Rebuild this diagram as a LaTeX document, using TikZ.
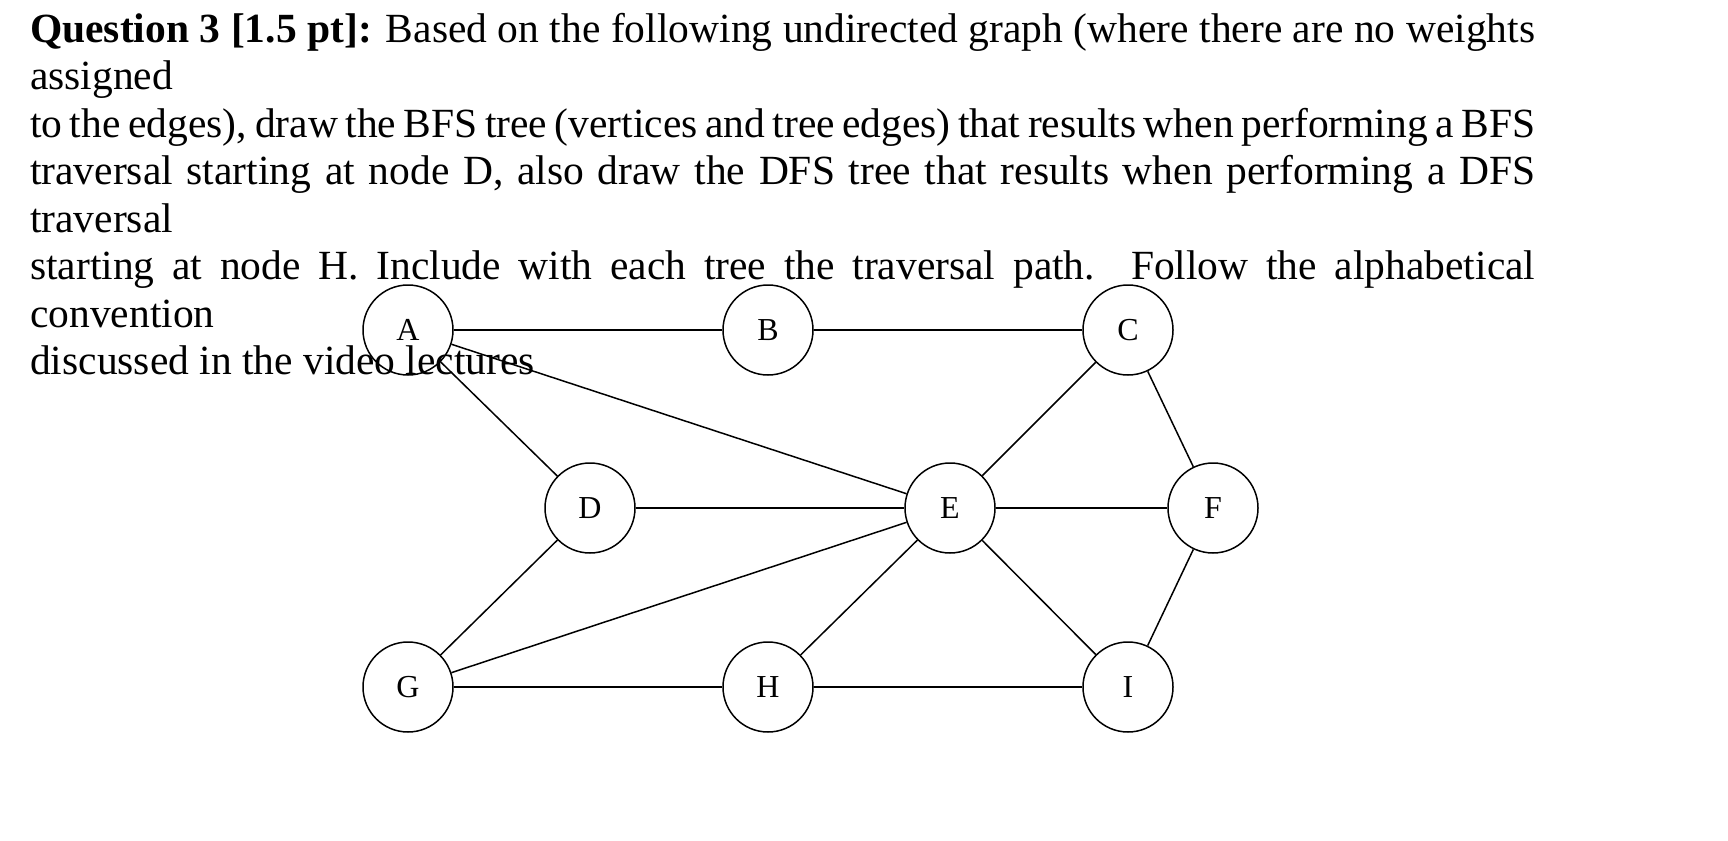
\documentclass[tikz,border=0pt]{standalone}
\usepackage{fontspec}
\setmainfont{Liberation Serif}
\begin{document}
\begin{tikzpicture}[x=1pt,y=-1pt,
  vtx/.style={circle,draw,line width=1.5pt,minimum size=90pt,inner sep=0pt,font=\fontsize{32}{36}\selectfont},
  edge/.style={line width=1.5pt}]
\useasboundingbox (0,0) rectangle (1728,840);
\node[anchor=north west,text width=1505pt,align=justify,inner sep=0pt,font=\fontsize{41.5}{47.5}\selectfont] (q) at (30,13)
{\hyphenpenalty=10000\textbf{Question 3 [1.5 pt]:} Based on the following undirected graph (where there are no weights assigned\linebreak{} to the edges), draw the BFS tree (vertices and tree edges) that results when performing a BFS\linebreak{} traversal starting at node D, also draw the DFS tree that results when performing a DFS traversal\linebreak{} starting at node H. Include with each tree the traversal path. Follow the alphabetical convention\linebreak{} discussed in the video lectures\par};
\node[vtx] (A) at (408,330) {A};
\node[vtx] (B) at (768,330) {B};
\node[vtx] (C) at (1128,330) {C};
\node[vtx] (D) at (590,508) {D};
\node[vtx] (E) at (950,508) {E};
\node[vtx] (F) at (1213,508) {F};
\node[vtx] (G) at (408,687) {G};
\node[vtx] (H) at (768,687) {H};
\node[vtx] (I) at (1128,687) {I};
\foreach \a/\b in {A/B,B/C,A/D,A/E,C/E,C/F,D/E,E/F,D/G,G/E,E/H,E/I,F/I,G/H,H/I}
  \draw[edge] (\a) -- (\b);
\end{tikzpicture}
\end{document}
